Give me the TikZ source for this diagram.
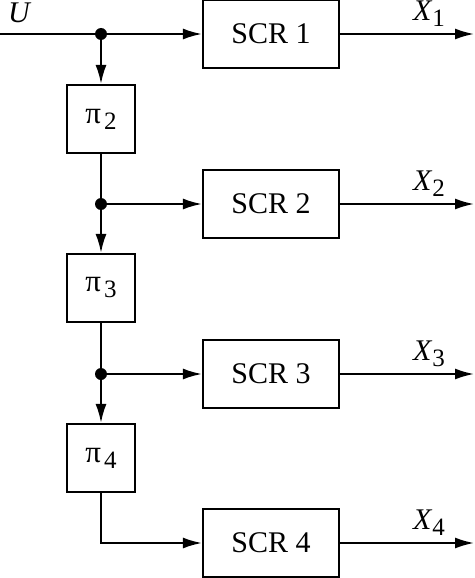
\documentclass[tikz,border=0pt]{standalone}
\usepackage{fontspec}
\setmainfont{Liberation Serif}
\usetikzlibrary{arrows.meta}
\newcommand{\mysub}[1]{\raisebox{-6pt}{\fontsize{25}{25}\selectfont\upshape #1}}
\begin{document}
\begin{tikzpicture}[x=1pt,y=-1pt,
  every node/.style={font=\fontsize{30}{32}\selectfont},
  blk/.style={draw,line width=2.2pt,minimum width=136pt,minimum height=68pt,inner sep=0pt},
  pib/.style={draw,line width=2.2pt,minimum width=68pt,minimum height=68pt,inner sep=0pt},
  conn/.style={line width=2pt},
  arr/.style={conn,-{Latex[length=19pt,width=11pt]}},
  dot/.style={circle,fill,inner sep=0pt,minimum size=12pt}]
\useasboundingbox (0,0) rectangle (474,578);
\node[blk] (s1) at (271,34) {SCR 1};
\node[blk] (s2) at (271,204) {SCR 2};
\node[blk] (s3) at (271,374) {SCR 3};
\node[blk] (s4) at (271,543) {SCR 4};
\node[pib] (p2) at (101,119) {\fontsize{31}{31}\selectfont π\kern3pt\mysub{2}};
\node[pib] (p3) at (101,288) {\fontsize{31}{31}\selectfont π\kern3pt\mysub{3}};
\node[pib] (p4) at (101,458) {\fontsize{31}{31}\selectfont π\kern3pt\mysub{4}};
\coordinate (in) at (0,34);
\node[dot] (j1) at (101,34) {};
\node[dot] (j2) at (101,204) {};
\node[dot] (j3) at (101,374) {};
\coordinate (o1) at (474,34);
\coordinate (o2) at (474,204);
\coordinate (o3) at (474,374);
\coordinate (o4) at (474,543);
\draw[conn] (in) -- (j1);
\draw[arr] (j1) -- (s1.west);
\draw[arr] (j1) -- (p2.north);
\draw[conn] (p2.south) -- (j2);
\draw[arr] (j2) -- (s2.west);
\draw[arr] (j2) -- (p3.north);
\draw[conn] (p3.south) -- (j3);
\draw[arr] (j3) -- (s3.west);
\draw[arr] (j3) -- (p4.north);
\draw[arr] (p4.south) |- (s4.west);
\draw[arr] (s1.east) -- (o1);
\draw[arr] (s2.east) -- (o2);
\draw[arr] (s3.east) -- (o3);
\draw[arr] (s4.east) -- (o4);
\node (lu) at (19,13) {\itshape U};
\node (l1) at (429,14) {\itshape X\kern1pt\mysub{1}};
\node (l2) at (429,184) {\itshape X\kern1pt\mysub{2}};
\node (l3) at (429,354) {\itshape X\kern1pt\mysub{3}};
\node (l4) at (429,523) {\itshape X\kern1pt\mysub{4}};
\end{tikzpicture}
\end{document}
